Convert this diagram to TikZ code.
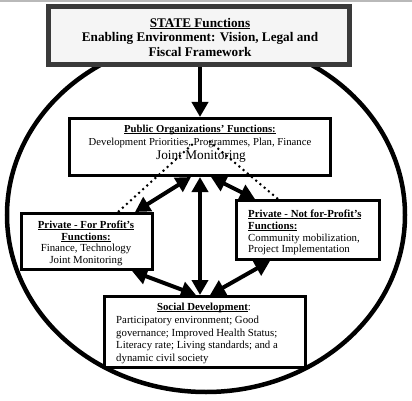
\documentclass[tikz,border=0pt]{standalone}
\usepackage{fontspec}
\setmainfont{Liberation Serif}
\usetikzlibrary{arrows.meta}
\definecolor{stateborder}{HTML}{3A3A3A}
\definecolor{statefill}{HTML}{F5F5F5}
\newsavebox\ulbox
\newcommand\myul[1]{\sbox\ulbox{#1}\rlap{\rule[-1.5pt]{\wd\ulbox}{0.7pt}}\usebox\ulbox}
\begin{document}
\begin{tikzpicture}[x=1pt,y=-1pt,
  box/.style={draw, line width=3pt, fill=white, inner sep=0pt},
  txt/.style={inner sep=0pt, font=\fontsize{10.8}{12}\selectfont},
  bigarrow/.style={line width=4pt, -{Triangle[length=15pt,width=16pt]}},
  dblarrow/.style={line width=4pt, {Triangle[length=15pt,width=16pt]}-{Triangle[length=15pt,width=16pt]}},
  dotline/.style={line width=2pt, dash pattern=on 2pt off 3.5pt}]
\useasboundingbox (0,0) rectangle (412,401);
\fill[gray!55] (0,0) rectangle (412,2);
% enclosing ellipse
\draw[line width=4.5pt] (206,215) ellipse [x radius=199, y radius=177];
% boxes
\node[draw=stateborder, fill=statefill, line width=5pt, inner sep=0pt,
  minimum width=301pt, minimum height=58pt] (state) at (199,35.5) {};
\node[box, minimum width=261pt, minimum height=57pt] (pub) at (200,147) {};
\node[box, minimum width=131pt, minimum height=56pt] (forp) at (87,241.5) {};
\node[box, minimum width=143pt, minimum height=59pt] (notp) at (308,230) {};
\node[box, minimum width=201pt, minimum height=71pt] (soc) at (205,332) {};
% texts
\node[txt, align=center, font=\bfseries\fontsize{13.2}{14.5}\selectfont] (statetxt) at (200,37)
  {\myul{STATE Functions}\\Enabling Environment: Vision, Legal and\\Fiscal Framework};
\node[txt, font=\bfseries\fontsize{10.7}{12}\selectfont] (pubtitle) at (200,130) {\myul{Public Organizations’ Functions:}};
\node[txt, font=\fontsize{10.7}{12}\selectfont] (publine) at (200,143) {Development Priorities, Programmes, Plan, Finance};
\node[txt, font=\fontsize{13.3}{14}\selectfont] (pubjm) at (201,157) {Joint Monitoring};
\node[txt, align=center, font=\fontsize{10.8}{11.7}\selectfont] (forptxt) at (86,243.5)
  {\textbf{\myul{Private - For Profit’s}}\\\textbf{\myul{Functions:}}\\Finance, Technology\\Joint Monitoring};
\node[txt, align=left, anchor=west, font=\fontsize{10.8}{11.7}\selectfont] (notptxt) at (248,232.5)
  {\textbf{\myul{Private - Not for-Profit’s}}\\\textbf{\myul{Functions:}}\\Community mobilization,\\Project Implementation};
\node[txt] (soctitle) at (204,308) {\textbf{\myul{Social Development}}:};
\node[txt, align=left, anchor=north west, font=\fontsize{10.8}{12.5}\selectfont] (soctxt) at (116,316)
  {Participatory environment; Good\\governance; Improved Health Status;\\Literacy rate; Living standards; and a\\dynamic civil society};
% arrows
\draw[bigarrow] ([xshift=1pt]state.south) -- (pub.north);
\draw[dblarrow] (pub.south) -- (pub.south |- soc.north);
\draw[dblarrow] ([xshift=-9pt]pub.south) -- ([xshift=48pt]forp.north);
\draw[dblarrow] ([xshift=11pt]pub.south) -- ([xshift=-53pt]notp.north);
\draw[dblarrow] ([xshift=45pt]forp.south) -- ([xshift=-9pt]soc.north);
\draw[dblarrow] ([xshift=5pt]soc.north) -- ([xshift=-38pt]notp.south);
% dotted links
\draw[dotline] ([xshift=31pt]forp.north) -- (195,142);
\draw[dotline] ([xshift=-30pt]notp.north) -- (209,141);
\end{tikzpicture}
\end{document}
